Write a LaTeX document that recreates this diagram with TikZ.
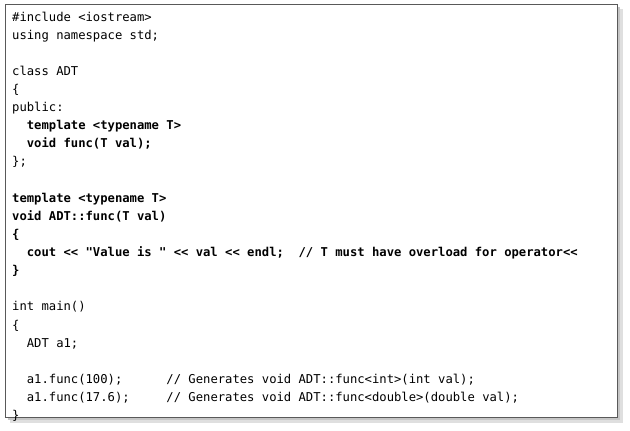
\documentclass[tikz,border=0pt]{standalone}
\usepackage{fontspec}
\setmonofont{DejaVu Sans Mono}
\begin{document}
\begin{tikzpicture}[x=1pt,y=-1pt,
  codeline/.style={anchor=base west,inner sep=0pt,font=\ttfamily\fontsize{12.2}{14}\selectfont}]
\useasboundingbox (0,0) rectangle (630,431);
\fill[gray!25] (10,9) rectangle (623,423);
\fill[gray!45] (8,7) rectangle (620,420);
\draw[fill=white,line width=1pt,draw=gray!70!black] (5,4) rectangle (617,417) node[coordinate] (box) {};
\def\L#1#2#3{\node[codeline] (l#1) at (12,{21+18.12*(#1-1)}) {#3#2};}
\L{1}{\#include <iostream>}{}
\L{2}{using namespace std;}{}
\L{4}{class ADT}{}
\L{5}{\{}{}
\L{6}{public:}{}
\L{7}{\ \ template <typename T>}{\bfseries}
\L{8}{\ \ void func(T val);}{\bfseries}
\L{9}{\};}{}
\L{11}{template <typename T>}{\bfseries}
\L{12}{void ADT::func(T val)}{\bfseries}
\L{13}{\{}{\bfseries}
\L{14}{\ \ cout << "Value is " << val << endl;\ \ // T must have overload for operator<<}{\bfseries}
\L{15}{\}}{\bfseries}
\L{17}{int main()}{}
\L{18}{\{}{}
\L{19}{\ \ ADT a1;}{}
\L{21}{\ \ a1.func(100);\ \ \ \ \ \ // Generates void ADT::func<int>(int val);}{}
\L{22}{\ \ a1.func(17.6);\ \ \ \ \ // Generates void ADT::func<double>(double val);}{}
\L{23}{\}}{}
\end{tikzpicture}
\end{document}
